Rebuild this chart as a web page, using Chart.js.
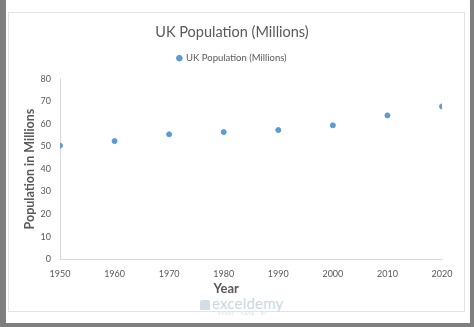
<!DOCTYPE html>
<html>
<head>
<meta charset="utf-8">
<script src="https://cdn.jsdelivr.net/npm/chart.js@4.4.1/dist/chart.umd.min.js"></script>
<style>
  html, body { margin: 0; padding: 0; background: #ffffff; }
  #page { position: relative; width: 474px; height: 327px; overflow: hidden; background: #ffffff; }
  #frameL { position: absolute; left: 0; top: 0; width: 6px; height: 327px; background: #7f7f7f; }
  #frameR { position: absolute; left: 470px; top: 0; width: 4px; height: 327px; background: #7f7f7f; }
  #frameB { position: absolute; left: 0; top: 323px; width: 474px; height: 4px; background: #7f7f7f; }
  #box { position: absolute; left: 8px; top: 12px; width: 455px; height: 298px; border: 1px solid #e3e3e3; }
  #chartWrap { position: absolute; left: 0; top: 0; width: 474px; height: 327px; }
  #mark { position: absolute; left: 200px; top: 296px; font-family: Lato, sans-serif; color: #c9d6e6; }
  #mark .name { font-size: 15px; line-height: 15px; letter-spacing: 0.2px; }
  #mark .sub { font-size: 4px; line-height: 5px; letter-spacing: 1px; margin-left: 18px; color: #d3dbe6; }
  #mark .logo { display: inline-block; width: 10px; height: 10px; background: #d3dde9; border-radius: 2px 2px 0 0; margin-right: 2px; vertical-align: -1px; }
</style>
</head>
<body>
<div id="page">
  <div id="frameL"></div>
  <div id="frameR"></div>
  <div id="frameB"></div>
  <div id="box"></div>
  <div id="mark"><div class="name"><span class="logo"></span>exceldemy</div><div class="sub">EXCEL · DATA · BI</div></div>
  <div id="chartWrap"><canvas id="c" width="474" height="327"></canvas></div>
</div>
<script>
// UK population by decade, in millions
const years = [1950, 1960, 1970, 1980, 1990, 2000, 2010, 2020];
const population = [50.4, 52.4, 55.4, 56.4, 57.3, 59.4, 63.8, 67.8];
const xTicks = [1950, 1960, 1970, 1980, 1990, 2000, 2010, 2020];
const yTicks = [0, 10, 20, 30, 40, 50, 60, 70, 80];

const FONT = 'Lato, "Open Sans", sans-serif';
const TEXT = '#595959';

// extra room below the legend row
const legendGap = {
  id: 'legendGap',
  beforeInit(chart) {
    const fit = chart.legend.fit;
    chart.legend.fit = function () {
      fit.call(this);
      this.height += 6;
    };
  }
};

// x-axis title "Year"
const yearTitle = {
  id: 'yearTitle',
  afterDraw(chart) {
    const { ctx, chartArea } = chart;
    ctx.save();
    ctx.font = 'bold 13px ' + FONT;
    ctx.fillStyle = TEXT;
    ctx.textAlign = 'center';
    ctx.textBaseline = 'middle';
    ctx.fillText('Year', chartArea.left + chartArea.width * 0.435, chartArea.bottom + 30);
    ctx.restore();
  }
};

new Chart(document.getElementById('c'), {
  type: 'scatter',
  data: {
    datasets: [{
      label: 'UK Population (Millions)',
      data: years.map((y, i) => ({ x: y, y: population[i] })),
      backgroundColor: '#5b9bd5',
      borderColor: '#5b9bd5',
      pointRadius: 2.5,
      pointHoverRadius: 2.5
    }]
  },
  options: {
    responsive: false,
    animation: false,
    events: [],
    layout: { padding: { left: 22, right: 32, top: 14, bottom: 39 } },
    plugins: {
      title: {
        display: true,
        text: 'UK Population (Millions)',
        color: TEXT,
        font: { family: FONT, size: 14.5, weight: 'normal' },
        padding: { top: 10, bottom: 6 }
      },
      legend: {
        display: true,
        position: 'top',
        labels: {
          color: TEXT,
          font: { family: FONT, size: 9.5 },
          usePointStyle: true,
          pointStyle: 'circle',
          boxWidth: 4,
          boxHeight: 4,
          padding: 6
        }
      },
      tooltip: { enabled: false }
    },
    scales: {
      x: {
        type: 'linear',
        min: 1950,
        max: 2020,
        afterBuildTicks(axis) { axis.ticks = xTicks.map(v => ({ value: v })); },
        grid: { display: false, drawTicks: false },
        border: { display: true, color: '#d9d9d9', width: 1 },
        ticks: { color: TEXT, font: { family: FONT, size: 9 }, padding: 9, maxRotation: 0, callback: v => String(v) }
      },
      y: {
        min: 0,
        max: 80,
        afterBuildTicks(axis) { axis.ticks = yTicks.map(v => ({ value: v })); },
        afterFit(axis) { axis.width = 38; },
        grid: { display: false, drawTicks: false },
        border: { display: true, color: '#d9d9d9', width: 1 },
        ticks: { color: TEXT, font: { family: FONT, size: 9 }, padding: 9 },
        title: {
          display: true,
          text: 'Population in Millions',
          color: TEXT,
          font: { family: FONT, size: 12.5, weight: 'bold' },
          padding: { top: 0, bottom: 0 }
        }
      }
    }
  },
  plugins: [legendGap, yearTitle]
});
</script>
</body>
</html>
